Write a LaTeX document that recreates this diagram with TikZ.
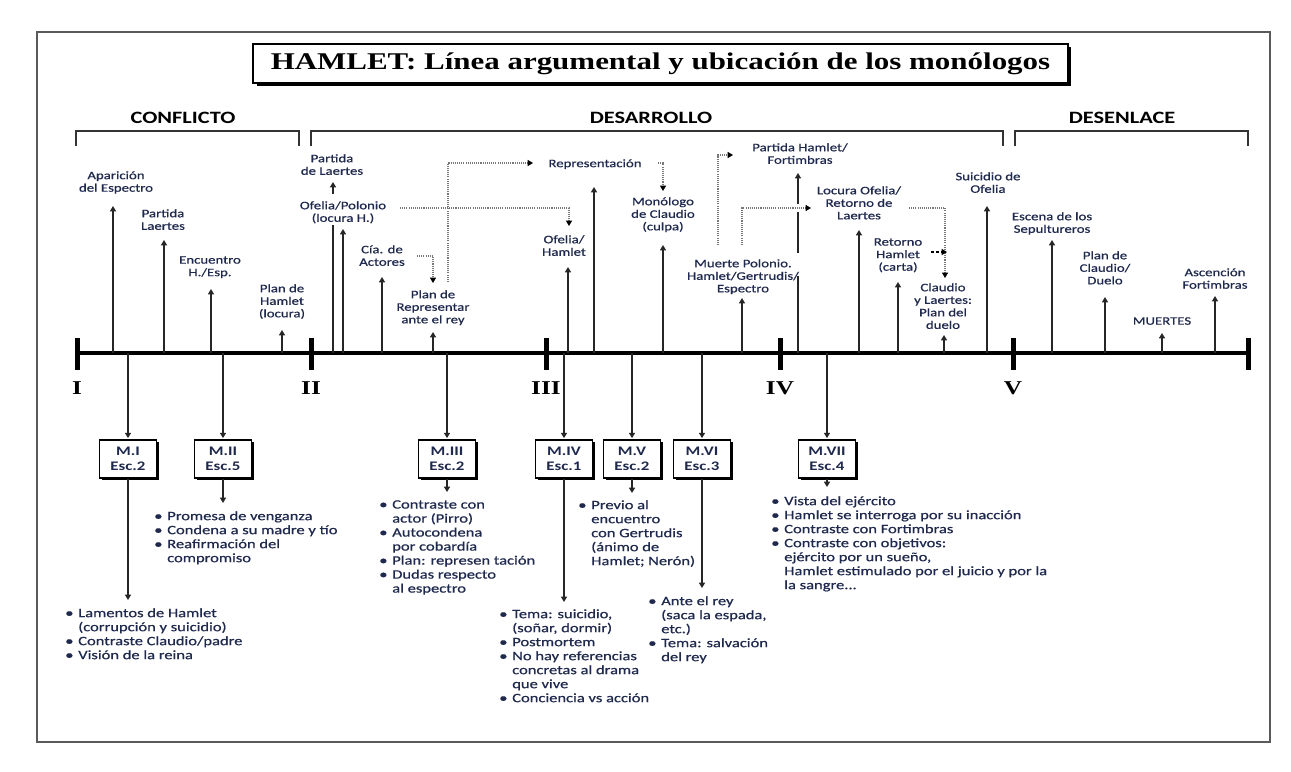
\documentclass[tikz,border=0pt]{standalone}
\usepackage{fontspec}
\setmainfont{Carlito}[FakeStretch=1.29]
\newfontfamily\labf{Carlito}[FakeStretch=1.29,FakeBold=0.6]
\newfontfamily\titf{Liberation Serif}[FakeStretch=1.29]
\usetikzlibrary{arrows.meta,shadows}
\definecolor{labc}{RGB}{31,41,77}
\definecolor{framec}{RGB}{90,90,90}
\definecolor{dotc}{RGB}{120,120,120}
\newcommand\bu{\makebox[9.75pt][l]{\textbullet}}
\newcommand\bx{\hspace*{9.75pt}}
\begin{document}
\begin{tikzpicture}[x=0.75pt,y=-0.75pt,
 lab/.style={font=\labf\fontsize{8.6}{9.4}\selectfont, text=labc, align=center, inner sep=0pt, anchor=north},
 blist/.style={font=\labf\fontsize{9.6}{10.5}\selectfont, text=labc, align=left, inner sep=0pt, anchor=north west},
 head/.style={font=\bfseries\fontsize{13}{15}\selectfont, inner sep=0pt},
 roman/.style={font=\titf\bfseries\fontsize{14.7}{16}\selectfont, inner sep=0pt},
 mbox/.style={draw=black, line width=0.8pt, fill=white, drop shadow={shadow xshift=1.6pt, shadow yshift=-1.6pt, fill=black, opacity=1}, minimum width=42.75pt, minimum height=28.5pt, inner sep=0pt, align=center, font=\bfseries\fontsize{9.8}{11.25}\selectfont, text=labc},
 up/.style={draw=black!85, line width=1.1pt, -{Triangle[width=4.5pt,length=4pt]}},
 plain/.style={draw=black!85, line width=1.1pt},
 dotl/.style={draw=dotc, line width=0.8pt, dash pattern=on 0.8pt off 0.8pt, -{Triangle[width=4.5pt,length=4pt,color=black]}},
 dashl/.style={draw=black, line width=0.8pt, dash pattern=on 2.2pt off 1.5pt, -{Triangle[width=4.5pt,length=4pt]}},
 brk/.style={draw=black!80, line width=0.9pt},
]
\useasboundingbox (0,0) rectangle (1291,771);
\fill[white] (0,0) rectangle (1291,771);
% frame
\draw[draw=framec, line width=1pt] (37,32) rectangle (1270,742);
% title
\node[draw=black, line width=1.1pt, fill=white, drop shadow={shadow xshift=2.5pt,shadow yshift=-2.5pt,fill=black,opacity=1}, minimum width=611pt, minimum height=29.25pt, inner sep=0pt, font=\titf\bfseries\fontsize{18}{20}\selectfont] (title) at (660.5,63.5) {HAMLET: Línea argumental y ubicación de los monólogos};
% brackets and headings
\draw[brk] (76,146) -- (76,131) -- (299,131) -- (299,146);
\draw[brk] (311,146) -- (311,131) -- (1003,131) -- (1003,146);
\draw[brk] (1015,146) -- (1015,131) -- (1248,131) -- (1248,146);
\node[head] (hconf) at (183,118) {CONFLICTO};
\node[head] (hdes) at (651,118) {DESARROLLO};
\node[head] (hdese) at (1122,118) {DESENLACE};
% timeline
\coordinate (tlA) at (77,353); \coordinate (tlB) at (1248,353);
\draw[line width=3pt] (tlA) -- (tlB);
\foreach \x/\r/\n in {77/I/a1, 311/II/a2, 546/III/a3, 780/IV/a4, 1013/V/a5} {
  \draw[line width=3.75pt] (\x,338) -- (\x,370);
  \node[roman] (\n) at (\x,388) {\r};
}
\draw[line width=3.75pt] (1248,338) -- (1248,370);
% upper labels
\node[lab] (L-apar) at (116,171) {Aparición\\del Espectro};
\node[lab] (L-partl) at (163,209) {Partida\\Laertes};
\node[lab] (L-encu) at (210,256) {Encuentro\\H./Esp.};
\node[lab] (L-planh) at (282,284) {Plan de\\Hamlet\\(locura)};
\node[lab] (L-pdl) at (332,154) {Partida\\de Laertes};
\node[lab] (L-ofpol) at (343,201) {Ofelia/Polonio\\(locura H.)};
\node[lab] (L-cia) at (382,245) {Cía. de\\Actores};
\node[lab] (L-planr) at (433,290) {Plan de\\Representar\\ante el rey};
\node[lab] (L-repr) at (595,159) {Representación};
\node[lab] (L-ofham) at (564,235) {Ofelia/\\Hamlet};
\node[lab] (L-mono) at (663,197) {Monólogo\\de Claudio\\(culpa)};
\node[lab] (L-parth) at (800,143) {Partida Hamlet/\\Fortimbras};
\node[lab] (L-loc) at (859,186) {Locura Ofelia/\\Retorno de\\Laertes};
\node[lab] (L-ret) at (898,238) {Retorno\\Hamlet\\(carta)};
\node[lab] (L-clau) at (943,283) {Claudio\\y Laertes:\\Plan del\\duelo};
\node[lab] (L-suic) at (988,172) {Suicidio de\\Ofelia};
\node[lab] (L-esc) at (1052,212) {Escena de los\\Sepultureros};
\node[lab] (L-planc) at (1105,251) {Plan de\\Claudio/\\Duelo};
\node[lab] (L-muertes) at (1162,317) {MUERTES};
\node[lab] (L-asc) at (1215,268) {Ascención\\Fortimbras};
% up stems
\foreach \n/\x/\t in {apar/113/206, partl/164/240, encu/211/289, planh/282/330, ofpol/343/229, cia/382/277, planr/433/332, repr/594/187, ofham/568/267, mono/663/245, muer/742/298, loc/859/230, ret/898/282, clau/944/335, suic/987/206, esc/1052/240, planc/1105/297, muertes/1162/333, asc/1215/296}
{\coordinate (\n-b) at (\x,353); \coordinate (\n-t) at (\x,\t); \draw[up] (\n-b) -- (\n-t);}
% Partida de Laertes stem (interrupted by label)
\coordinate (pdl-b) at (333,353); \coordinate (pdl-m) at (333,225);
\draw[plain] (pdl-b) -- (pdl-m);
\coordinate (pdl-s) at (333,194); \coordinate (pdl-t) at (333,182);
\draw[up] (pdl-s) -- (pdl-t);
% Partida Hamlet/Fortimbras stem
\coordinate (ph-b) at (798,353); \coordinate (ph-1) at (798,276);
\coordinate (ph-2) at (798,253); \coordinate (ph-3) at (798,212);
\coordinate (ph-4) at (798,204); \coordinate (ph-t) at (798,173);
\draw[plain] (ph-b) -- (ph-1);
\draw[plain] (ph-2) -- (ph-3);
\draw[up] (ph-4) -- (ph-t);
\node[lab] (L-muer) at (743,259) {Muerte Polonio.\\Hamlet/Gertrudis/\\Espectro};
% dotted connectors
\coordinate (d1s) at (400,208); \coordinate (d1e) at (569,226); \draw[dotl] (d1s) -| (d1e);
\coordinate (d2s) at (417,256); \coordinate (d2e) at (433,283); \draw[dotl] (d2s) -| (d2e);
\coordinate (d3s) at (448,282); \coordinate (d3e) at (533,163); \draw[dotl] (d3s) |- (d3e);
\coordinate (d4s) at (658,163); \coordinate (d4e) at (663,191); \draw[dotl] (d4s) -| (d4e);
\coordinate (d5s) at (718,245); \coordinate (d5e) at (733,155); \draw[dotl] (d5s) |- (d5e);
\coordinate (d6s) at (742,245); \coordinate (d6e) at (811,208); \draw[dotl] (d6s) |- (d6e);
\coordinate (d7s) at (909,208); \coordinate (d7e) at (945,278); \draw[dotl] (d7s) -| (d7e);
\coordinate (d8s) at (931,252); \coordinate (d8e) at (947,252); \draw[dashl] (d8s) -- (d8e);
% monologue boxes
\node[mbox] (m1) at (128,459) {M.I\\Esc.2};
\node[mbox] (m2) at (223,459) {M.II\\Esc.5};
\node[mbox] (m3) at (447,459) {M.III\\Esc.2};
\node[mbox] (m4) at (564,459) {M.IV\\Esc.1};
\node[mbox] (m5) at (632,459) {M.V\\Esc.2};
\node[mbox] (m6) at (702,459) {M.VI\\Esc.3};
\node[mbox] (m7) at (827,459) {M.VII\\Esc.4};
\foreach \n/\x/\t in {m1/128/600, m2/223/503, m3/447/492, m4/564/602, m5/632/493, m6/702/588, m7/827/487}
{\coordinate (\n-b) at (\x,353); \coordinate (\n-t) at (\x,\t);
 \draw[up, shorten >=1pt] (\n-b) -- (\n.north);
 \draw[up] (\n.south) -- (\n-t);}
% bullet lists
\node[blist] (b1) at (65,608) {\bu Lamentos de Hamlet\\\bx(corrupción y suicidio)\\\bu Contraste Claudio/padre\\\bu Visión de la reina};
\node[blist] (b2) at (154,511) {\bu Promesa de venganza\\\bu Condena a su madre y tío\\\bu Reafirmación del\\\bx compromiso};
\node[blist] (b3) at (379,500) {\bu Contraste con\\\bx actor (Pirro)\\\bu Autocondena\\\bx por cobardía\\\bu Plan: represen tación\\\bu Dudas respecto\\\bx al espectro};
\node[blist] (b4) at (499,609) {\bu Tema: suicidio,\\\bx(soñar, dormir)\\\bu Postmortem\\\bu No hay referencias\\\bx concretas al drama\\\bx que vive\\\bu Conciencia vs acción};
\node[blist] (b5) at (578,500) {\bu Previo al\\\bx encuentro\\\bx con Gertrudis\\\bx(ánimo de\\\bx Hamlet; Nerón)};
\node[blist] (b6) at (648,596) {\bu Ante el rey\\\bx(saca la espada,\\\bx etc.)\\\bu Tema: salvación\\\bx del rey};
\node[blist] (b7) at (771,496) {\bu Vista del ejército\\\bu Hamlet se interroga por su inacción\\\bu Contraste con Fortimbras\\\bu Contraste con objetivos:\\\bx ejército por un sueño,\\\bx Hamlet estimulado por el juicio y por la\\\bx la sangre...};
\end{tikzpicture}
\end{document}
